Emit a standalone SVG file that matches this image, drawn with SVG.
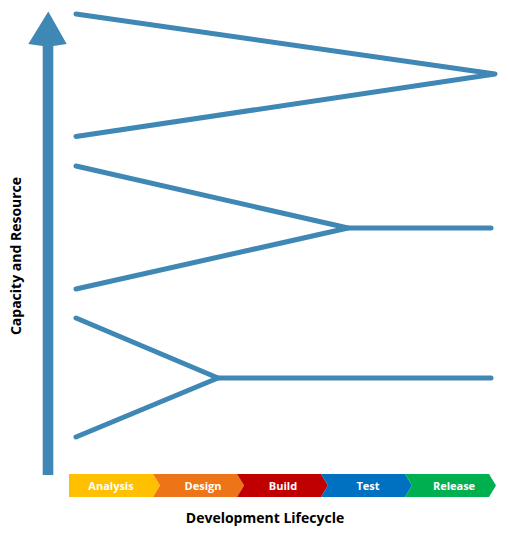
<svg xmlns="http://www.w3.org/2000/svg" width="509" height="534" viewBox="0 0 509 534">
<style>
.ln{fill:none;stroke:#3F87B5;stroke-width:5;stroke-linecap:round;stroke-linejoin:round}
.st{font-family:"Open Sans","DejaVu Sans",sans-serif;font-weight:bold;font-size:11px;fill:#fff;text-anchor:middle}
.ax{font-family:"Open Sans","DejaVu Sans",sans-serif;font-weight:bold;font-size:14px;fill:#000;text-anchor:middle}
</style>
<rect width="509" height="534" fill="#fff"/>
<g id="axis-arrow">
<polygon points="42.7,475 53.3,475 53.3,46 66.7,44 48.3,11.5 28.3,44 42.7,46" fill="#3F87B5"/>
</g>
<g id="connectors">
<path class="ln" d="M76,14 L495,74 L76,136.5" stroke-linecap="butt"/>
<path class="ln" d="M76,166 L348,228 L76,289" stroke-linecap="butt"/>
<path class="ln" d="M348,228 L491,228"/>
<path class="ln" d="M76,318 L218,378 L76,437" stroke-linecap="butt"/>
<path class="ln" d="M218,378 L491,378"/>
</g>
<g id="stage-analysis">
<polygon points="69,474 153,474 160,485.5 153,497 69,497" fill="#FFC000"/>
<text class="st" x="111" y="489.5">Analysis</text>
</g>
<g id="stage-design">
<polygon points="153,474 237,474 244,485.5 237,497 153,497 160,485.5" fill="#ED7518"/>
<text class="st" x="203" y="489.5">Design</text>
</g>
<g id="stage-build">
<polygon points="237,474 321,474 328,485.5 321,497 237,497 244,485.5" fill="#C00000"/>
<text class="st" x="283" y="489.5">Build</text>
</g>
<g id="stage-test">
<polygon points="321,474 405,474 412,485.5 405,497 321,497 328,485.5" fill="#0070C0"/>
<text class="st" x="368" y="489.5">Test</text>
</g>
<g id="stage-release">
<polygon points="405,474 489,474 496,485.5 489,497 405,497 412,485.5" fill="#00B050"/>
<text class="st" x="454" y="489.5">Release</text>
</g>
<g id="labels">
<text class="ax" x="265" y="523">Development Lifecycle</text>
<text class="ax" transform="translate(21,256) rotate(-90)">Capacity and Resource</text>
</g>
</svg>
